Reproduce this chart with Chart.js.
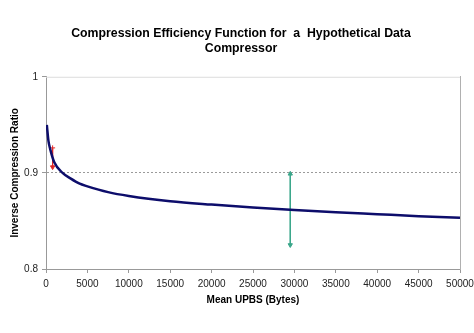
<!DOCTYPE html>
<html>
<head>
<meta charset="utf-8">
<script src="https://cdn.jsdelivr.net/npm/chart.js@4.4.1/dist/chart.umd.min.js"></script>
<style>
  body { margin: 0; background: #fff; }
</style>
</head>
<body>
<canvas id="myChart" width="474" height="333"></canvas>
<script>
// compression efficiency curve
let upbs = [100, 300, 500, 1000, 2000, 3000, 4000, 5000, 7500, 10000, 15000, 20000, 25000, 30000, 35000, 40000, 45000, 50000];
let ratio = [0.950, 0.933, 0.925, 0.911, 0.900, 0.894, 0.889, 0.886, 0.880, 0.876, 0.8705, 0.867, 0.864, 0.8614, 0.859, 0.857, 0.855, 0.8534];

// error bars (x, high, low)
let redBarX = 800;
let redBar = [0.926, 0.906];
let greenBarX = 29500;
let greenBar = [0.899, 0.825];

let yTicks = [0.8, 0.9, 1];

// light line along the top of the plot
const frame = {
    id: "frame",
    afterDraw(chart) {
        const a = chart.chartArea, c = chart.ctx;
        c.save();
        c.lineWidth = 1;
        c.strokeStyle = "#dcdcdc";
        c.beginPath(); c.moveTo(a.left, a.top + 0.5); c.lineTo(a.right, a.top + 0.5); c.stroke();
        c.restore();
    }
};

const chartData = {
    type: "line",
    data: {
        datasets: [{
            label: "curve",
            data: upbs.map((x, i) => ({x: x, y: ratio[i]})),
            borderColor: "#0d0d6b",
            borderWidth: 2.5,
            pointRadius: 0,
            cubicInterpolationMode: "monotone"
        }, {
            label: "red",
            data: redBar.map(v => ({x: redBarX, y: v})),
            borderColor: "#e02828",
            backgroundColor: "#e02828",
            borderWidth: 1,
            pointStyle: ["crossRot", "triangle"],
            pointRotation: [45, 180],
            pointRadius: 2.5
        }, {
            label: "green",
            data: greenBar.map(v => ({x: greenBarX, y: v})),
            borderColor: "#3aa68a",
            backgroundColor: "#3aa68a",
            borderWidth: 1,
            pointStyle: "triangle",
            pointRotation: [0, 180],
            pointRadius: 2.5
        }]
    },
    options: {
        responsive: false,
        animation: false,
        layout: { padding: { left: 9, right: 1, top: 0, bottom: 23 } },
        plugins: {
            legend: { display: false },
            tooltip: { enabled: false },
            title: {
                display: true,
                text: ["Compression Efficiency Function for  a  Hypothetical Data", "Compressor"],
                color: "#000",
                font: { family: "Liberation Sans", size: 12.3, weight: "bold", lineHeight: 1.25 },
                padding: { top: 26, bottom: 20 }
            }
        },
        scales: {
            x: {
                type: "linear",
                min: 0,
                max: 50000,
                afterFit(s) { s.height = 41; s.paddingLeft = 0; s.paddingRight = 0; },
                ticks: {
                    stepSize: 5000,
                    autoSkip: false,
                    maxRotation: 0,
                    color: "#222",
                    padding: 5,
                    font: { family: "Liberation Sans", size: 10 },
                    callback: v => String(v)
                },
                grid: { drawOnChartArea: false, tickLength: 4, tickColor: "#999", color: "#999" },
                border: { color: "#999" },
                title: {
                    display: true,
                    text: "Mean UPBS (Bytes)",
                    color: "#000",
                    font: { family: "Liberation Sans", size: 10, weight: "bold" },
                    padding: { top: 3 }
                }
            },
            y: {
                min: 0.8,
                max: 1,
                afterFit(s) { s.width = 37; s.paddingTop = 0; s.paddingBottom = 0; },
                afterBuildTicks(s) { s.ticks = yTicks.map(v => ({value: v})); },
                ticks: {
                    color: "#222",
                    padding: 4,
                    font: { family: "Liberation Sans", size: 10 },
                    callback: v => String(v)
                },
                grid: {
                    tickLength: 4,
                    tickColor: "#999",
                    color: ctx => (ctx.tick && Math.abs(ctx.tick.value - 0.9) < 1e-6) ? "#9a9a9a" : "rgba(0,0,0,0)"
                },
                border: { color: "#999", dash: [2, 2] },
                title: {
                    display: true,
                    text: "Inverse Compression Ratio",
                    color: "#000",
                    font: { family: "Liberation Sans", size: 10, weight: "bold" },
                    padding: { top: 0, bottom: 2 }
                }
            },
            y2: {
                position: "right",
                min: 0.8,
                max: 1,
                afterFit(s) { s.width = 13; s.paddingTop = 0; s.paddingBottom = 0; },
                ticks: { display: false },
                grid: { drawOnChartArea: false, drawTicks: false },
                border: { color: "#b0b0b0" }
            }
        }
    },
    plugins: [frame]
};
let myChart = new Chart("myChart", chartData);
</script>
</body>
</html>
